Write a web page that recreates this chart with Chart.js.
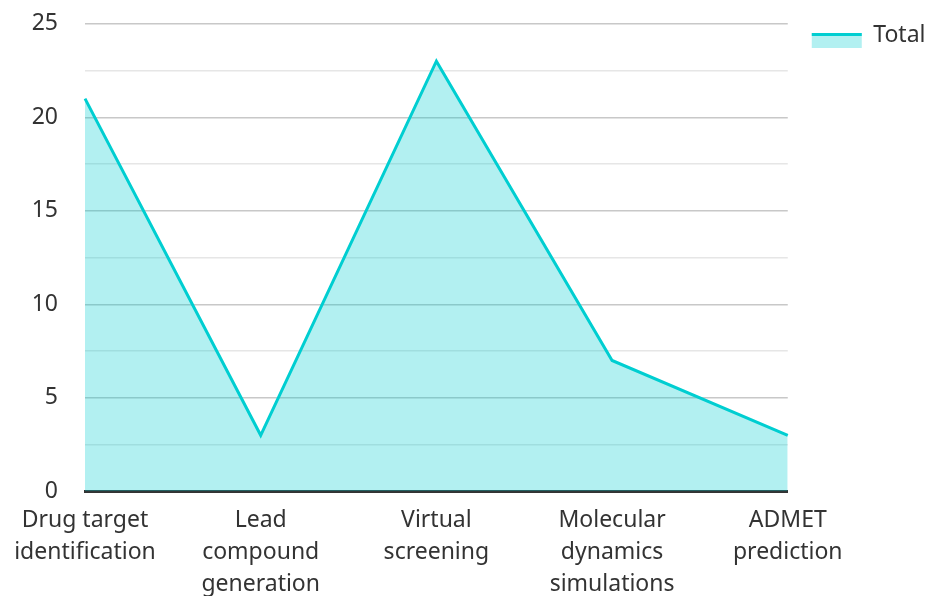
<!DOCTYPE html>
<html><head><meta charset="utf-8">
<script src="https://cdn.jsdelivr.net/npm/chart.js@4/dist/chart.umd.min.js"></script>
<style>html,body{margin:0;padding:0;overflow:hidden;background:#fff;width:926px;height:596px}</style>
</head><body>
<canvas id="c" width="926" height="614"></canvas>
<script>
const categories = [["Drug target","identification"],["Lead","compound","generation"],["Virtual","screening"],["Molecular","dynamics","simulations"],["ADMET","prediction"]];
const totalValues = [21, 3, 23, 7, 3];
const seriesName = "Total";

const LINE = '#00CED1';
const FILL = 'rgba(0,206,209,0.30)';
const FONT = { family: 'Noto Sans', size: 23, lineHeight: 1.4 };

const legendMarker = {
  id: 'legendMarker',
  afterDraw(chart) {
    const lg = chart.legend;
    if (!lg || !lg.legendHitBoxes) return;
    const ctx = chart.ctx;
    lg.legendHitBoxes.forEach(b => {
      ctx.save();
      ctx.fillStyle = FILL;
      ctx.fillRect(b.left, b.top + 9, 50, 15);
      ctx.strokeStyle = LINE;
      ctx.lineWidth = 3;
      ctx.beginPath();
      ctx.moveTo(b.left, b.top + 10.5);
      ctx.lineTo(b.left + 50, b.top + 10.5);
      ctx.stroke();
      ctx.restore();
    });
  }
};

new Chart(document.getElementById('c'), {
  type: 'line',
  data: {
    labels: categories,
    datasets: [{
      label: seriesName,
      data: totalValues,
      borderColor: LINE,
      backgroundColor: FILL,
      borderWidth: 3,
      fill: 'origin',
      pointRadius: 0,
      tension: 0
    }]
  },
  options: {
    responsive: false,
    animation: false,
    layout: { padding: { top: 0, right: -9.5, left: 0, bottom: 0 } },
    plugins: {
      legend: {
        position: 'right',
        align: 'start',
        labels: {
          font: { family: 'Noto Sans', size: 23 },
          color: '#333',
          boxWidth: 50,
          boxHeight: 14,
          padding: 24,
          generateLabels(chart) {
            return [{ text: seriesName, fillStyle: 'rgba(0,0,0,0)', strokeStyle: 'rgba(0,0,0,0)', lineWidth: 0, datasetIndex: 0, fontColor: '#333' }];
          }
        }
      },
      tooltip: { enabled: false }
    },
    scales: {
      x: {
        offset: false,
        grid: { display: false, drawTicks: false },
        border: { color: '#333', width: 3 },
        ticks: { font: FONT, color: '#333', maxRotation: 0, autoSkip: false, padding: 13 }
      },
      y: {
        min: 0, max: 25,
        afterFit: s => { s.width = 85; },
        grid: {
          drawTicks: true,
          tickLength: 17,
          tickColor: 'rgba(0,0,0,0)',
          color: ctx => (ctx.tick && ctx.tick.value % 5 === 0) ? '#c8c8c8' : '#e6e6e6',
          lineWidth: 1.5
        },
        border: { display: false },
        ticks: {
          stepSize: 2.5,
          font: { family: 'Noto Sans', size: 23 },
          color: '#333',
          padding: 10,
          callback: v => (v % 5 === 0 ? String(v) : '')
        }
      }
    }
  },
  plugins: [legendMarker]
});
</script>
</body></html>
